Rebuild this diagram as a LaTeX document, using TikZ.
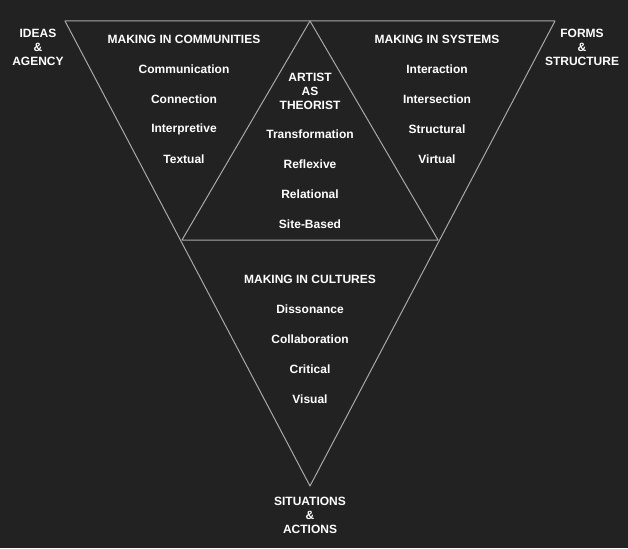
\documentclass[tikz,border=0pt]{standalone}
\usepackage{fontspec}
\setmainfont{Liberation Sans}
\definecolor{bg}{HTML}{222222}
\definecolor{ln}{HTML}{A8A8A8}
\begin{document}
\begin{tikzpicture}[x=1pt,y=-1pt,
  lbl/.style={text=white,font=\bfseries\fontsize{12}{14}\selectfont,align=center,inner sep=0pt},
  edge/.style={draw=ln,line width=1pt}]
\fill[bg] (0,0) rectangle (628,548);
\useasboundingbox (0,0) rectangle (628,548);
\coordinate (A) at (65,21); \coordinate (B) at (555,21); \coordinate (C) at (310,486);
\coordinate (T) at (310,21); \coordinate (L) at (182,240); \coordinate (R) at (438,240);
\draw[edge,line join=round] (A) -- (B) -- (C) -- cycle;
\draw[edge,line join=round] (T) -- (L) -- (R) -- cycle;
\node[lbl] (ia) at (38,47) {IDEAS\\\&\\AGENCY};
\node[lbl] (fs) at (582,47) {FORMS\\\&\\STRUCTURE};
\node[lbl] (sa) at (310,515) {SITUATIONS\\\&\\ACTIONS};
\node[lbl] (mc) at (184,39) {MAKING IN COMMUNITIES};
\node[lbl] (c1) at (184,69) {Communication};
\node[lbl] (c2) at (184,99) {Connection};
\node[lbl] (c3) at (184,129) {Interpretive};
\node[lbl] (c4) at (184,159) {Textual};
\node[lbl] (ms) at (437,39) {MAKING IN SYSTEMS};
\node[lbl] (s1) at (437,69) {Interaction};
\node[lbl] (s2) at (437,99) {Intersection};
\node[lbl] (s3) at (437,129) {Structural};
\node[lbl] (s4) at (437,159) {Virtual};
\node[lbl] (at) at (310,91) {ARTIST\\AS\\THEORIST};
\node[lbl] (t1) at (310,134) {Transformation};
\node[lbl] (t2) at (310,164) {Reflexive};
\node[lbl] (t3) at (310,194) {Relational};
\node[lbl] (t4) at (310,224) {Site-Based};
\node[lbl] (mu) at (310,279) {MAKING IN CULTURES};
\node[lbl] (u1) at (310,309) {Dissonance};
\node[lbl] (u2) at (310,339) {Collaboration};
\node[lbl] (u3) at (310,369) {Critical};
\node[lbl] (u4) at (310,399) {Visual};
\end{tikzpicture}
\end{document}
